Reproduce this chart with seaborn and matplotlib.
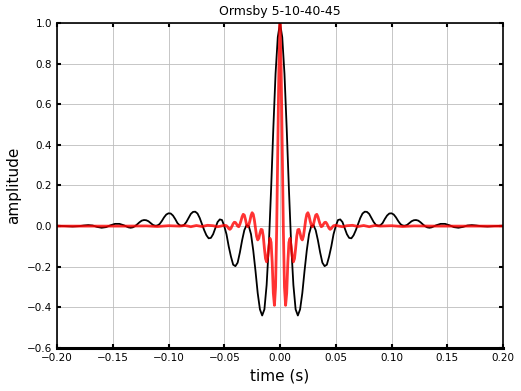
import matplotlib
matplotlib.use('Agg')

import matplotlib.pyplot as plt
import seaborn as sns


# ---------------------------------------------------
# Data
# ---------------------------------------------------

black_t = [
    -0.200, -0.192, -0.186, -0.180, -0.176, -0.172, -0.168, -0.164, -0.160,
    -0.156, -0.152, -0.148, -0.144, -0.140, -0.138, -0.136, -0.134, -0.132,
    -0.130, -0.128, -0.126, -0.124, -0.122, -0.120, -0.118, -0.116, -0.114,
    -0.112, -0.110, -0.108, -0.106, -0.104, -0.102, -0.100, -0.098, -0.096,
    -0.094, -0.092, -0.090, -0.088, -0.086, -0.084, -0.082, -0.080, -0.078,
    -0.076, -0.074, -0.072, -0.070, -0.068, -0.066, -0.064, -0.062, -0.060,
    -0.058, -0.056, -0.054, -0.052, -0.050, -0.048, -0.046, -0.044, -0.042,
    -0.040, -0.038, -0.036, -0.034, -0.032, -0.030, -0.028, -0.026, -0.024,
    -0.022, -0.020, -0.018, -0.016, -0.014, -0.012, -0.010, -0.008, -0.006,
    -0.004, -0.002, 0.000, 0.002, 0.004, 0.006, 0.008, 0.010, 0.012,
    0.014, 0.016, 0.018, 0.020, 0.022, 0.024, 0.026, 0.028, 0.030,
    0.032, 0.034, 0.036, 0.038, 0.040, 0.042, 0.044, 0.046, 0.048,
    0.050, 0.052, 0.054, 0.056, 0.058, 0.060, 0.062, 0.064, 0.066,
    0.068, 0.070, 0.072, 0.074, 0.076, 0.078, 0.080, 0.082, 0.084,
    0.086, 0.088, 0.090, 0.092, 0.094, 0.096, 0.098, 0.100, 0.102,
    0.104, 0.106, 0.108, 0.110, 0.112, 0.114, 0.116, 0.118, 0.120,
    0.122, 0.124, 0.126, 0.128, 0.130, 0.132, 0.134, 0.136, 0.138,
    0.140, 0.144, 0.148, 0.152, 0.156, 0.160, 0.164, 0.168, 0.172,
    0.176, 0.180, 0.186, 0.192, 0.200,
]

black_amp = [
    0.002, 0.000, -0.002, 0.000, 0.003, 0.005, 0.003, -0.004, -0.008,
    -0.005, 0.004, 0.011, 0.011, 0.004, -0.001, -0.006, -0.008, -0.006,
    0.000, 0.009, 0.019, 0.027, 0.030, 0.029, 0.024, 0.015, 0.006,
    0.002, 0.003, 0.010, 0.025, 0.043, 0.057, 0.063, 0.062, 0.052,
    0.035, 0.015, 0.004, 0.002, 0.006, 0.020, 0.040, 0.060, 0.070,
    0.071, 0.062, 0.040, 0.010, -0.020, -0.045, -0.060, -0.058, -0.040,
    -0.010, 0.020, 0.033, 0.030, 0.000, -0.040, -0.100, -0.150, -0.190,
    -0.197, -0.180, -0.130, -0.070, -0.020, 0.005, 0.000, -0.040, -0.120,
    -0.220, -0.330, -0.410, -0.440, -0.410, -0.290, -0.090, 0.180, 0.480,
    0.750, 0.930, 1.000, 0.930, 0.750, 0.480, 0.180, -0.090, -0.290,
    -0.410, -0.440, -0.410, -0.330, -0.220, -0.120, -0.040, 0.000, 0.005,
    -0.020, -0.070, -0.130, -0.180, -0.197, -0.190, -0.150, -0.100, -0.040,
    0.000, 0.030, 0.033, 0.020, -0.010, -0.040, -0.058, -0.060, -0.045,
    -0.020, 0.010, 0.040, 0.062, 0.071, 0.070, 0.060, 0.040, 0.020,
    0.006, 0.002, 0.004, 0.015, 0.035, 0.052, 0.062, 0.063, 0.057,
    0.043, 0.025, 0.010, 0.003, 0.002, 0.006, 0.015, 0.024, 0.029,
    0.030, 0.027, 0.019, 0.009, 0.000, -0.006, -0.008, -0.006, -0.001,
    0.004, 0.011, 0.011, 0.004, -0.005, -0.008, -0.004, 0.003, 0.005,
    0.003, 0.000, -0.002, 0.000, 0.002,
]

red_t = [
    -0.200, -0.170, -0.140, -0.120, -0.110, -0.100, -0.090, -0.085, -0.080,
    -0.075, -0.070, -0.065, -0.060, -0.056, -0.053, -0.050, -0.048, -0.047,
    -0.046, -0.045, -0.044, -0.043, -0.042, -0.041, -0.040, -0.039, -0.038,
    -0.037, -0.036, -0.035, -0.034, -0.033, -0.032, -0.031, -0.030, -0.029,
    -0.028, -0.027, -0.026, -0.025, -0.024, -0.023, -0.022, -0.021, -0.020,
    -0.019, -0.018, -0.017, -0.016, -0.015, -0.014, -0.013, -0.012, -0.011,
    -0.010, -0.009, -0.008, -0.007, -0.006, -0.005, -0.004, -0.003, -0.002,
    -0.001, 0.000, 0.001, 0.002, 0.003, 0.004, 0.005, 0.006, 0.007,
    0.008, 0.009, 0.010, 0.011, 0.012, 0.013, 0.014, 0.015, 0.016,
    0.017, 0.018, 0.019, 0.020, 0.021, 0.022, 0.023, 0.024, 0.025,
    0.026, 0.027, 0.028, 0.029, 0.030, 0.031, 0.032, 0.033, 0.034,
    0.035, 0.036, 0.037, 0.038, 0.039, 0.040, 0.041, 0.042, 0.043,
    0.044, 0.045, 0.046, 0.047, 0.048, 0.050, 0.053, 0.056, 0.060,
    0.065, 0.070, 0.075, 0.080, 0.085, 0.090, 0.100, 0.110, 0.120,
    0.140, 0.170, 0.200,
]

red_amp = [
    0.000, 0.000, 0.000, 0.001, -0.002, 0.002, 0.000, 0.003, -0.003,
    0.003, -0.002, 0.004, 0.002, -0.003, 0.000, 0.004, 0.002, -0.004,
    -0.012, -0.016, -0.011, 0.001, 0.012, 0.019, 0.018, 0.010, 0.000,
    -0.003, 0.009, 0.026, 0.046, 0.058, 0.054, 0.033, 0.008, -0.003,
    0.006, 0.026, 0.052, 0.066, 0.058, 0.030, -0.012, -0.050, -0.068,
    -0.060, -0.035, -0.016, -0.018, -0.050, -0.110, -0.160, -0.176, -0.150,
    -0.100, -0.060, -0.080, -0.180, -0.330, -0.390, -0.300, -0.020, 0.380,
    0.780, 1.000, 0.780, 0.380, -0.020, -0.300, -0.390, -0.330, -0.180,
    -0.080, -0.060, -0.100, -0.150, -0.176, -0.160, -0.110, -0.050, -0.018,
    -0.016, -0.035, -0.060, -0.068, -0.050, -0.012, 0.030, 0.058, 0.066,
    0.052, 0.026, 0.006, -0.003, 0.008, 0.033, 0.054, 0.058, 0.046,
    0.026, 0.009, -0.003, 0.000, 0.010, 0.018, 0.019, 0.012, 0.001,
    -0.011, -0.016, -0.012, -0.004, 0.002, 0.004, 0.000, -0.003, 0.002,
    0.004, -0.002, 0.003, -0.003, 0.003, 0.000, 0.002, -0.002, 0.001,
    0.000, 0.000, 0.000,
]

x_ticks = [-0.20, -0.15, -0.10, -0.05, 0.00, 0.05, 0.10, 0.15, 0.20]
y_ticks = [-0.6, -0.4, -0.2, 0.0, 0.2, 0.4, 0.6, 0.8, 1.0]


# ---------------------------------------------------
# Wavelet Plot
# ---------------------------------------------------

sns.set_style('ticks')
plt.rcParams['text.color'] = 'black'
plt.rcParams['axes.labelcolor'] = 'black'

fig = plt.figure(figsize=(5.21, 3.91), dpi=100)
ax = fig.add_axes([0.1094, 0.110, 0.8561, 0.8312])

sns.lineplot(
    x=black_t,
    y=black_amp,
    color='black',
    linewidth=1.3,
    ax=ax
)

sns.lineplot(
    x=red_t,
    y=red_amp,
    color='red',
    alpha=0.8,
    linewidth=2,
    ax=ax
)

ax.set_xlim(-0.2, 0.2)
ax.set_ylim(-0.6, 1.0)
ax.set_xticks(x_ticks)
ax.set_yticks(y_ticks)

ax.grid(True, color='#bdbdbd', linewidth=0.6)
ax.set_axisbelow(True)

ax.tick_params(
    direction='in',
    top=True,
    right=True,
    length=3,
    width=1.5,
    labelsize=7.5,
    color='black',
    labelcolor='black'
)

for side in ['left', 'right', 'top']:
    ax.spines[side].set_linewidth(1.2)
    ax.spines[side].set_color('black')
ax.spines['bottom'].set_linewidth(2.2)
ax.spines['bottom'].set_color('black')

ax.set_title('Ormsby 5-10-40-45', fontsize=9, color='black')
ax.set_xlabel('time (s)', fontsize=11)
ax.set_ylabel('amplitude', fontsize=11)

fig.savefig('out.png', dpi=100)
plt.close(fig)
